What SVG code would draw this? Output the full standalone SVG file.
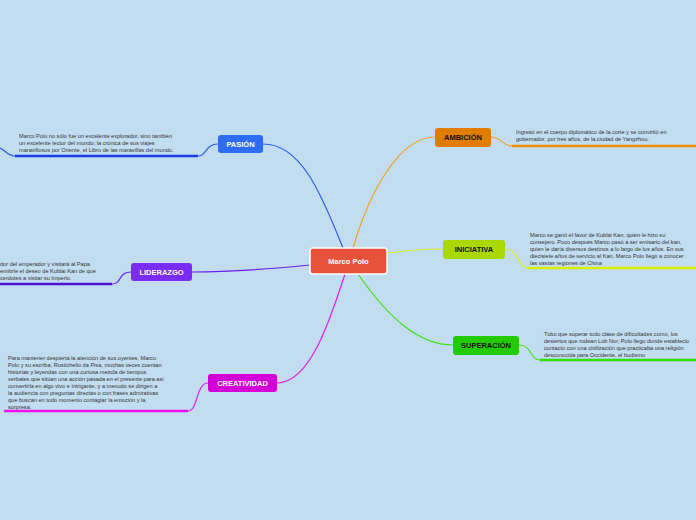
<svg xmlns="http://www.w3.org/2000/svg" width="696" height="520" viewBox="0 0 696 520">
<style>
.n{font-family:"Liberation Sans",Arial,sans-serif;font-size:7.5px;font-weight:bold;text-anchor:middle}
.t{font-family:"Liberation Sans",Arial,sans-serif;font-size:5.6px;fill:#333}
.c{fill:none;stroke-width:1.2}
.u{stroke-width:2.5}
</style>
<rect width="696" height="520" fill="#c3ddf0"/>
<g id="connectors">
<path class="c" stroke="#2a5cf0" d="M343,248 C320,190 300,144 263,144"/>
<path class="c" stroke="#2a5cf0" d="M218,144 C205,144 207,156 198,156"/>
<path class="c" stroke="#2a5cf0" d="M15,156 C8,156 5,150 0,148"/>
<line class="u" stroke="#1a3fe0" x1="15" y1="156" x2="198" y2="156"/>
<path class="c" stroke="#f0a020" d="M353,248 C370,190 400,137 435,137"/>
<path class="c" stroke="#f0a020" d="M491,137 C502,137 502,146 512,146"/>
<line class="u" stroke="#f09000" x1="512" y1="146" x2="696" y2="146"/>
<path class="c" stroke="#d8f020" d="M387,253 C410,250 420,249 443,249"/>
<path class="c" stroke="#d8f020" d="M505,249 C518,249 518,268 528,268"/>
<line class="u" stroke="#d8f000" x1="528" y1="268" x2="696" y2="268"/>
<path class="c" stroke="#40e020" d="M358,274 C390,320 420,345 453,345"/>
<path class="c" stroke="#40e020" d="M519,345 C532,345 530,360 540,360"/>
<line class="u" stroke="#30e000" x1="540" y1="360" x2="696" y2="360"/>
<path class="c" stroke="#6a20f0" d="M310,265 C260,270 230,272 192,272"/>
<path class="c" stroke="#6a20f0" d="M131,272 C118,272 122,284 112,284"/>
<line class="u" stroke="#5010d0" x1="0" y1="284" x2="112" y2="284"/>
<path class="c" stroke="#e020e8" d="M345,274 C330,320 310,383 277,383"/>
<path class="c" stroke="#e020e8" d="M208,383 C196,383 198,411 188,411"/>
<line class="u" stroke="#f010f0" x1="4" y1="411" x2="188" y2="411"/>
</g>
<g id="center"><rect x="310" y="248" width="77" height="26" rx="3" fill="#e8523a" stroke="#fff" stroke-width="1.5"/><text class="n" x="348.5" y="264" fill="#fff" font-size="9">Marco Polo</text></g>
<g id="pasion"><rect x="218" y="135" width="45" height="18" rx="3" fill="#2f6cf5"/><text class="n" x="240.5" y="147" fill="#fff">PASIÓN</text></g>
<g id="ambicion"><rect x="435" y="128" width="56" height="19" rx="3" fill="#e07c00"/><text class="n" x="463" y="140" fill="#111">AMBICIÓN</text></g>
<g id="iniciativa"><rect x="443" y="240" width="62" height="19" rx="3" fill="#a8d800"/><text class="n" x="474" y="252" fill="#111">INICIATIVA</text></g>
<g id="superacion"><rect x="453" y="336" width="66" height="19" rx="3" fill="#22cc00"/><text class="n" x="486" y="348" fill="#111">SUPERACIÓN</text></g>
<g id="liderazgo"><rect x="131" y="263" width="61" height="18" rx="3" fill="#7a2cf5"/><text class="n" x="161.5" y="275" fill="#fff">LIDERAZGO</text></g>
<g id="creatividad"><rect x="208" y="374" width="69" height="18" rx="3" fill="#d200d6"/><text class="n" x="242.5" y="386" fill="#fff">CREATIVIDAD</text></g>
<g id="texts">
<text class="t" x="19" y="138">Marco Polo no sólo fue un excelente explorador, sino también</text>
<text class="t" x="19" y="145">un excelente lector del mundo; la crónica de sus viajes</text>
<text class="t" x="19" y="152">maravillosos por Oriente, el Libro de las maravillas del mundo.</text>
<text class="t" x="516" y="134">Ingresó en el cuerpo diplomático de la corte y se convirtió en</text>
<text class="t" x="516" y="141">gobernador, por tres años, de la ciudad de Yangzhou.</text>
<text class="t" x="530" y="237">Marco se ganó el favor de Kublai Kan, quién le hizo su</text>
<text class="t" x="530" y="244">consejero. Poco después Marco pasó a ser emisario del kan,</text>
<text class="t" x="530" y="251">quien le daría diversos destinos a lo largo de los años. En sus</text>
<text class="t" x="530" y="258">diecisiete años de servicio al Kan, Marco Polo llegó a conocer</text>
<text class="t" x="530" y="265">las vastas regiones de China</text>
<text class="t" x="544" y="336">Tubo que superar todo clase de dificultades como, los</text>
<text class="t" x="544" y="343">desiertos que rodean Lob Nor, Polo  llego donde establecio</text>
<text class="t" x="544" y="350">contacto con una civilización que practicaba una religión</text>
<text class="t" x="544" y="357">desconocida para Occidente, el budismo</text>
<text class="t" x="0" y="266">dor del emperador y visitará al Papa</text>
<text class="t" x="0" y="273">emitirle el deseo de Kublai Kan de que</text>
<text class="t" x="0" y="280">cerdotes a visitar su Imperio.</text>
<text class="t" x="8" y="360">Para mantener despierta la atención de sus oyentes, Marco</text>
<text class="t" x="8" y="367">Polo y su escriba, Rustichello da Pisa, muchas veces cuentan</text>
<text class="t" x="8" y="374">historias y leyendas con una curiosa mezcla de tiempos</text>
<text class="t" x="8" y="381">verbales que sitúan una acción pasada en el presente para así</text>
<text class="t" x="8" y="388">convertirla en algo vivo e intrigante, y a menudo se dirigen a</text>
<text class="t" x="8" y="395">la audiencia con preguntas directas o con frases admirativas</text>
<text class="t" x="8" y="402">que buscan en todo momento contagiar la emoción y la</text>
<text class="t" x="8" y="409">sorpresa.</text>
</g>
</svg>
